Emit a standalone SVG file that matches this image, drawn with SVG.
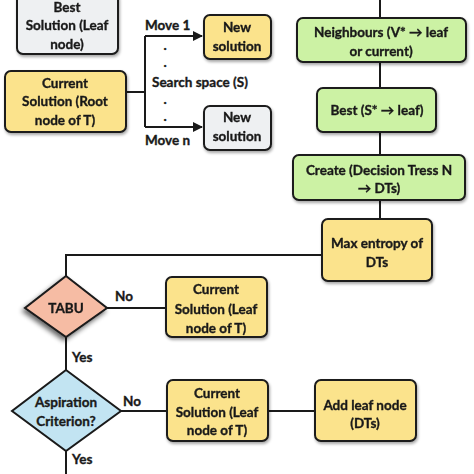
<svg xmlns="http://www.w3.org/2000/svg" width="474" height="474" viewBox="0 0 474 474">
<defs>
<style>
text{font-family:Lato,"Liberation Sans",sans-serif;font-weight:bold;font-size:13.5px;fill:#1a1a1a;stroke:#1a1a1a;stroke-width:0.35;text-anchor:middle}
.lbl{text-anchor:start}
.box{stroke:#1a1a1a;stroke-width:2}
.y{fill:#fbe38c}
.g{fill:#ccf2a4}
.w{fill:#eef0f2}
.c{stroke:#1a1a1a;stroke-width:2;fill:none}
</style>
<filter id="sh" x="-20%" y="-20%" width="140%" height="140%"><feGaussianBlur in="SourceAlpha" stdDeviation="1.5"/><feOffset dx="1" dy="2"/><feComponentTransfer><feFuncA type="linear" slope="0.35"/></feComponentTransfer><feMerge><feMergeNode/><feMergeNode in="SourceGraphic"/></feMerge></filter>
<filter id="sh2" x="-20%" y="-20%" width="140%" height="140%"><feGaussianBlur in="SourceAlpha" stdDeviation="2.5"/><feOffset dx="-2" dy="3"/><feComponentTransfer><feFuncA type="linear" slope="0.6"/></feComponentTransfer><feMerge><feMergeNode/><feMergeNode in="SourceGraphic"/></feMerge></filter>
<marker id="ah" viewBox="0 0 10 10" refX="9" refY="5" markerWidth="5" markerHeight="5" orient="auto"><path d="M0,0 L10,5 L0,10 z" fill="#1a1a1a"/></marker>
</defs>
<g id="connectors">
<path class="c" d="M126,92 H145 M145,36 V127"/>
<path class="c" d="M145,36 H202" marker-end="url(#ah)"/>
<path class="c" d="M145,127 H202" marker-end="url(#ah)"/>
<path class="c" d="M380,0 V18 M380,62 V88 M380,132 V155 M380,200 V219"/>
<path class="c" d="M322,255 H66 V276"/>
<path class="c" d="M107,308 H166"/>
<path class="c" d="M66,337 V370"/>
<path class="c" d="M121,411 H167 M268,411 H315"/>
<path class="c" d="M66,451 V474"/>
</g>
<g id="labels">
<text class="lbl" x="145" y="30">Move 1</text>
<text class="lbl" x="145" y="145">Move n</text>
<text class="lbl" x="152" y="87">Search space (S)</text>
<text x="165" y="50">.</text>
<text x="165" y="67">.</text>
<text x="165" y="104">.</text>
<text x="165" y="121">.</text>
<text class="lbl" x="115" y="301">No</text>
<text class="lbl" x="72" y="362">Yes</text>
<text class="lbl" x="123" y="406">No</text>
<text class="lbl" x="72" y="464">Yes</text>
</g>
<g id="best" filter="url(#sh)">
<rect class="box w" x="17" y="-8" width="101" height="62" rx="6"/>
<text x="67" y="12">Best</text>
<text x="67" y="30">Solution (Leaf</text>
<text x="67" y="49">node)</text>
</g>
<g id="current-root" filter="url(#sh)">
<rect class="box y" x="5" y="71" width="121" height="61" rx="6"/>
<text x="65" y="88">Current</text>
<text x="65" y="106">Solution (Root</text>
<text x="65" y="125">node of T)</text>
</g>
<g id="new1" filter="url(#sh)">
<rect class="box y" x="204" y="15" width="67" height="44" rx="6"/>
<text x="237" y="32">New</text>
<text x="237" y="51">solution</text>
</g>
<g id="new2" filter="url(#sh)">
<rect class="box w" x="204" y="106" width="67" height="44" rx="6"/>
<text x="237" y="122">New</text>
<text x="237" y="141">solution</text>
</g>
<g id="neighbours" filter="url(#sh)">
<rect class="box g" x="297" y="18" width="169" height="44" rx="6"/>
<text x="381" y="37">Neighbours (V* → leaf</text>
<text x="381" y="56">or current)</text>
</g>
<g id="best2" filter="url(#sh)">
<rect class="box g" x="317" y="88" width="119" height="44" rx="6"/>
<text x="377" y="115">Best (S* → leaf)</text>
</g>
<g id="create" filter="url(#sh)">
<rect class="box g" x="293" y="155" width="172" height="45" rx="6"/>
<text x="379" y="175">Create (Decision Tress N</text>
<text x="379" y="193">→ DTs)</text>
</g>
<g id="maxentropy" filter="url(#sh)">
<rect class="box y" x="322" y="219" width="110" height="62" rx="6"/>
<text x="377" y="248">Max entropy of</text>
<text x="377" y="267">DTs</text>
</g>
<g id="tabu" filter="url(#sh2)">
<path class="box" fill="#f6bca4" d="M66,276 L107,308 L66,337 L25,308 Z"/>
<text x="66" y="313">TABU</text>
</g>
<g id="current2" filter="url(#sh)">
<rect class="box y" x="166" y="277" width="101" height="60" rx="6"/>
<text x="216" y="294">Current</text>
<text x="216" y="314">Solution (Leaf</text>
<text x="216" y="333">node of T)</text>
</g>
<g id="aspiration">
<path class="box" fill="#c2e4f2" d="M66,370 L121,411 L66,451 L12,411 Z"/>
<text x="66" y="407">Aspiration</text>
<text x="66" y="426">Criterion?</text>
</g>
<g id="current3" filter="url(#sh)">
<rect class="box y" x="167" y="380" width="101" height="61" rx="6"/>
<text x="217" y="398">Current</text>
<text x="217" y="417">Solution (Leaf</text>
<text x="217" y="435">node of T)</text>
</g>
<g id="addleaf" filter="url(#sh)">
<rect class="box y" x="315" y="380" width="101" height="61" rx="6"/>
<text x="365" y="410">Add leaf node</text>
<text x="365" y="428">(DTs)</text>
</g>
</svg>
